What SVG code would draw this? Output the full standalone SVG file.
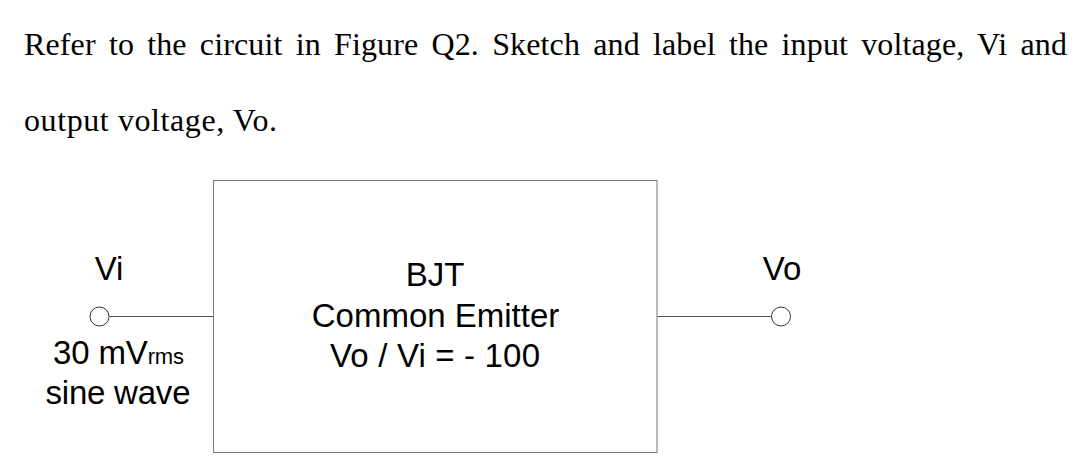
<svg xmlns="http://www.w3.org/2000/svg" width="1085" height="474" viewBox="0 0 1085 474">
<style>
.q{font-family:"Liberation Serif","Times New Roman",serif;font-size:32px;fill:#000}
.l{font-family:"Liberation Sans",Arial,sans-serif;font-size:33px;fill:#000}
.c{stroke:#555;stroke-width:1;fill:none}
.t{stroke:#333;stroke-width:1;fill:#fff}
</style>
<rect width="1085" height="474" fill="#fff"/>
<text class="q" x="24" y="55" textLength="1043" lengthAdjust="spacing" word-spacing="5">Refer to the circuit in Figure Q2. Sketch and label the input voltage, Vi and</text>
<text class="q" x="24" y="131" textLength="253" lengthAdjust="spacing">output voltage, Vo.</text>
<g id="connectors">
<path class="c" d="M109.500 316.500H213"/>
<path class="c" d="M657 316.500H771"/>
</g>
<g id="amp">
<rect x="213.500" y="180.500" width="443.500" height="272" fill="#fff" stroke="#777"/>
<text class="l" x="435" y="286" text-anchor="middle">BJT</text>
<text class="l" x="435.500" y="327" text-anchor="middle">Common Emitter</text>
<text class="l" x="435" y="367" text-anchor="middle" textLength="210" lengthAdjust="spacing">Vo / Vi = - 100</text>
</g>
<g id="vi">
<circle class="t" cx="99.500" cy="316.500" r="9.500"/>
<text class="l" x="109" y="280" text-anchor="middle">Vi</text>
<text class="l" x="53" y="364" textLength="131" lengthAdjust="spacing">30 mV<tspan font-size="22">rms</tspan></text>
<text class="l" x="118" y="404" text-anchor="middle" textLength="145" lengthAdjust="spacing">sine wave</text>
</g>
<g id="vo">
<circle class="t" cx="781" cy="316.500" r="9.500"/>
<text class="l" x="782" y="280" text-anchor="middle">Vo</text>
</g>
</svg>
